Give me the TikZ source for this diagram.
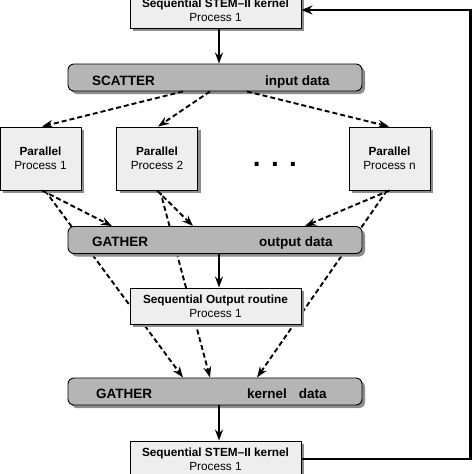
\documentclass[tikz,border=0pt]{standalone}
\usepackage{fontspec}
\setmainfont{Liberation Sans}
\usetikzlibrary{arrows.meta,shadows,backgrounds,calc}
\definecolor{boxfill}{HTML}{EEEEEE}
\definecolor{barfill}{HTML}{B5B5B5}
\definecolor{shadowgray}{HTML}{8C8C8C}
\begin{document}
\begin{tikzpicture}[x=1pt,y=-1pt,
  myshadow/.style={drop shadow={shadow xshift=3pt,shadow yshift=-3pt,fill=shadowgray,opacity=1}},
  seqbox/.style={draw=black,line width=0.9pt,fill=boxfill,minimum width=171pt,minimum height=36pt,inner sep=0pt,align=center,font=\fontsize{11.8}{14}\selectfont,myshadow},
  parbox/.style={seqbox,minimum width=81pt,minimum height=63pt},
  bar/.style={draw=black,line width=0.9pt,fill=barfill,rounded corners=6pt,minimum width=294pt,minimum height=27pt,inner sep=0pt,myshadow},
  barlabel/.style={anchor=base west,inner sep=0pt,font=\fontsize{13.5}{16}\selectfont\bfseries},
  solidarr/.style={line width=1.8pt,-{Stealth[length=11pt,width=8pt]}},
  dasharr/.style={line width=1.9pt,dash pattern=on 5pt off 3pt,-{Stealth[length=11pt,width=8pt]}},
  fb/.style={line width=2.2pt,-{Stealth[length=11pt,width=9pt]}}
]
\useasboundingbox (0,0) rectangle (474,474);
\node[seqbox] (top) at (215.5,10) {\textbf{Sequential STEM–II kernel}\\Process 1};
\node[bar] (scatter) at (215,77.5) {};
\node[barlabel] (scl) at (92,85) {SCATTER};
\node[barlabel] (scr) at (265,85) {input data};
\node[parbox] (p1) at (40.5,158.5) {\textbf{Parallel}\\Process 1};
\node[parbox] (p2) at (157,158.5) {\textbf{Parallel}\\Process 2};
\node[parbox] (pn) at (389.5,158.5) {\textbf{Parallel}\\Process n};
\node[inner sep=0pt,font=\fontsize{28}{28}\selectfont\bfseries] (dots) at (275,164) {. . .};
\node[bar] (gout) at (215,240) {};
\node[barlabel] (gol) at (92,246) {GATHER};
\node[barlabel] (gor) at (259,246) {output data};
\node[seqbox] (outr) at (215.5,306) {\textbf{Sequential Output routine}\\Process 1};
\node[bar] (gker) at (215,391.5) {};
\node[barlabel] (gkl) at (96,398) {GATHER};
\node[barlabel] (gkr) at (247,398) {kernel\hspace{12pt}data};
\node[seqbox] (bot) at (215.5,459) {\textbf{Sequential STEM–II kernel}\\Process 1};
\coordinate (ax) at (219,0);
% solid arrows
\draw[solidarr] (top.south -| ax) -- (scatter.north -| ax);
\draw[solidarr] (gout.south -| ax) -- (outr.north -| ax);
\draw[solidarr] (gker.south -| ax) -- (bot.north -| ax);
% scatter
\draw[dasharr] ([xshift=-32pt]scatter.south) -- ([xshift=1.5pt]p1.north);
\draw[dasharr] ([xshift=-5pt]scatter.south) -- ([xshift=1pt]p2.north);
\draw[dasharr] ([xshift=32pt]scatter.south) -- ([xshift=-0.5pt]pn.north);
% gather output
\draw[dasharr] ([xshift=1.5pt]p1.south) -- ([xshift=-103pt]gout.north);
\draw[dasharr] (p2.south) -- ([xshift=-22pt]gout.north);
\draw[dasharr] (pn.south) -- ([xshift=90pt]gout.north);
% gather kernel (behind)
\begin{pgfonlayer}{background}
\draw[dasharr] ([xshift=4.5pt]p1.south) -- ([xshift=-32pt]gker.north);
\draw[dasharr] ([xshift=3pt]p2.south) -- ([xshift=-5pt]gker.north);
\draw[dasharr] ([xshift=-2.5pt]pn.south) -- ([xshift=42pt]gker.north);
\end{pgfonlayer}
% feedback
\draw[fb] (bot.east) -- ++(169,0) |- (top.east);
\end{tikzpicture}
\end{document}
